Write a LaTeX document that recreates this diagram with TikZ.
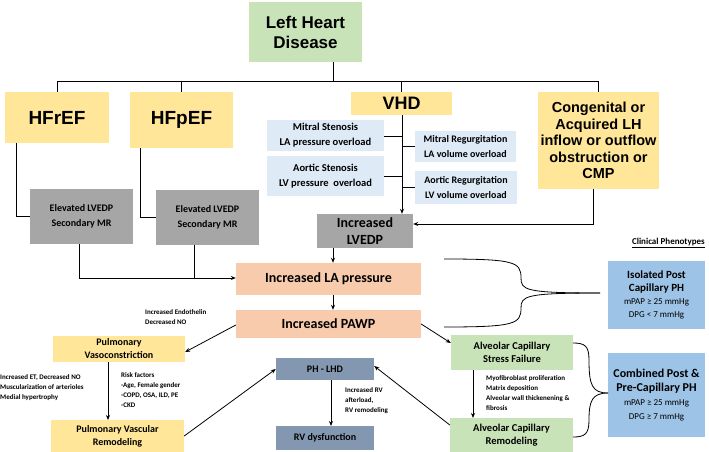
\documentclass[tikz,border=0pt]{standalone}
\usepackage{fontspec}
\setmainfont{Carlito}
\newfontfamily\arialf{Liberation Sans}
\usetikzlibrary{arrows.meta}
\definecolor{cy}{HTML}{FFE699}
\definecolor{cg}{HTML}{C9E3B8}
\definecolor{cp}{HTML}{F8CBAD}
\definecolor{cl}{HTML}{DEEBF7}
\definecolor{cgr}{HTML}{A6A6A6}
\definecolor{cs}{HTML}{8497B0}
\definecolor{cb}{HTML}{9DC3E6}
\begin{document}
\begin{tikzpicture}[x=1pt,y=-1pt,
 box/.style={draw=none,align=center,inner sep=1pt,font=\bfseries},
 ln/.style={draw=black,line width=0.8pt},
 ar/.style={ln,-{Stealth[length=5pt,width=4pt]}},
 sm/.style={align=left,font=\bfseries\fontsize{7}{10}\selectfont,inner sep=0pt,anchor=north west}]
\fill[white] (0,0) rectangle (709,452);
\useasboundingbox (0,0) rectangle (709,452);
\node[box,fill=cg,minimum width=113,minimum height=60,font=\arialf\bfseries\fontsize{17}{20}\selectfont] (lhd) at (305.5,32) {Left Heart\\Disease};
\node[box,fill=cy,minimum width=104,minimum height=51,font=\arialf\bfseries\fontsize{19}{22}\selectfont] (hfr) at (57,117.5) {HFrEF};
\node[box,fill=cy,minimum width=103,minimum height=56,font=\arialf\bfseries\fontsize{19}{22}\selectfont] (hfp) at (181.5,120) {HFpEF};
\node[box,fill=cy,minimum width=101,minimum height=23,font=\arialf\bfseries\fontsize{18}{20}\selectfont] (vhd) at (401.5,103.5) {VHD};
\node[box,fill=cy,minimum width=121,minimum height=97,font=\arialf\bfseries\fontsize{14.5}{16.5}\selectfont] (cong) at (598.5,140.5) {Congenital or\\Acquired LH\\inflow or outflow\\obstruction or\\CMP};
\node[box,fill=cl,minimum width=117,minimum height=31,font=\bfseries\fontsize{10.5}{15}\selectfont] (ms) at (325.5,135.5) {Mitral Stenosis\\LA pressure overload};
\node[box,fill=cl,minimum width=117,minimum height=40,font=\bfseries\fontsize{10.5}{15}\selectfont] (as) at (325.5,176) {Aortic Stenosis\\LV pressure\ \ overload};
\node[box,fill=cl,minimum width=101,minimum height=31,font=\bfseries\fontsize{10}{15}\selectfont] (mr) at (465.5,146.5) {Mitral Regurgitation\\LA volume overload};
\node[box,fill=cl,minimum width=102,minimum height=33,font=\bfseries\fontsize{10}{15}\selectfont] (arg) at (466,187.5) {Aortic Regurgitation\\LV volume overload};
\node[box,fill=cgr,minimum width=96,minimum height=34,font=\bfseries\fontsize{14}{17}\selectfont] (lvedp) at (365,231) {Increased\\LVEDP};
\node[box,fill=cgr,minimum width=103,minimum height=55,font=\bfseries\fontsize{10}{15}\selectfont] (e1) at (81.5,216.5) {Elevated LVEDP\\Secondary MR};
\node[box,fill=cgr,minimum width=103,minimum height=55,font=\bfseries\fontsize{10}{15}\selectfont] (e2) at (207.5,217.5) {Elevated LVEDP\\Secondary MR};
\node[box,fill=cp,minimum width=185,minimum height=32,font=\bfseries\fontsize{14}{17}\selectfont] (la) at (328.5,279) {Increased LA pressure};
\node[box,fill=cp,minimum width=185,minimum height=28,font=\bfseries\fontsize{14}{17}\selectfont] (pawp) at (328.5,324) {Increased PAWP};
\node[box,fill=cb,minimum width=97,minimum height=68,font=\bfseries\fontsize{11}{13}\selectfont] (iso) at (656.5,295) {Isolated Post\\Capillary PH\\{\mdseries\fontsize{9}{12}\selectfont mPAP ≥ 25 mmHg}\\{\mdseries\fontsize{9}{12}\selectfont DPG < 7 mmHg}};
\node[box,fill=cb,minimum width=97,minimum height=84,font=\bfseries\fontsize{12}{14}\selectfont] (comb) at (656.5,395) {Combined Post \&\\Pre-Capillary PH\\{\mdseries\fontsize{9}{12}\selectfont mPAP ≥ 25 mmHg}\\{\mdseries\fontsize{9}{12}\selectfont DPG ≥ 7 mmHg}};
\node[box,fill=cg,minimum width=122,minimum height=35,font=\bfseries\fontsize{10.5}{13}\selectfont] (acsf) at (512,352.5) {Alveolar Capillary\\Stress Failure};
\node[box,fill=cg,minimum width=123,minimum height=34,font=\bfseries\fontsize{10.5}{13}\selectfont] (acr) at (511.5,435) {Alveolar Capillary\\Remodeling};
\node[box,fill=cs,minimum width=98,minimum height=22,font=\bfseries\fontsize{10}{12}\selectfont] (ph) at (325,369) {PH - LHD};
\node[box,fill=cs,minimum width=98,minimum height=24,font=\bfseries\fontsize{10}{12}\selectfont] (rv) at (325,438) {RV dysfunction};
\node[box,fill=cy,minimum width=132,minimum height=26,font=\bfseries\fontsize{10}{13}\selectfont] (pv) at (119,349) {Pulmonary\\Vasoconstriction};
\node[box,fill=cy,minimum width=133,minimum height=32,font=\bfseries\fontsize{10}{13}\selectfont] (pvr) at (117.5,436) {Pulmonary Vascular\\Remodeling};
% texts
\node[inner sep=0pt,anchor=south east,font=\bfseries\fontsize{9}{11}\selectfont] (cp) at (705,248) {\underline{Clinical Phenotypes}};
\node[sm] (t1) at (145,309) {Increased Endothelin\\Decreased NO};
\node[sm] (t2) at (0,374) {Increased ET, Decreased NO\\Muscularization of arterioles\\Medial hypertrophy};
\node[sm] (t3) at (121,372) {Risk factors\\-Age, Female gender\\-COPD, OSA, ILD, PE\\-CKD};
\node[sm] (t4) at (345,387) {Increased RV\\afterload,\\RV remodeling};
\node[sm] (t5) at (486,375) {Myofibroblast proliferation\\Matrix deposition\\Alveolar wall thickenening \&\\fibrosis};
% top bus
\coordinate (bt) at (333,62);
\coordinate (bb) at (333,81);
\draw[ln] (bt) -- (bb);
\draw[ln] (hfr.north) -- (hfr.north |- bb) -- (cong.north |- bb) -- (cong.north);
\draw[ln] (hfp.north) -- (hfp.north |- bb);
\draw[ln] (vhd.north) -- (vhd.north |- bb);
% VHD branches
\coordinate (vx) at (402,115);
\draw[ar] (vx) -- (vx |- lvedp.north);
\draw[ln] (ms.east |- 0,136) -- (402,136);
\draw[ln] (as.east |- 0,176) -- (402,176);
\draw[ln] (402,146) -- (mr.west |- 0,146);
\draw[ln] (402,187) -- (arg.west |- 0,187);
\draw[ar] (593,189) -- (593,224) -- (lvedp.east |- 0,224);
% HF lines
\draw[ln] (16,143) -- (16,216) -- (e1.west |- 0,216);
\draw[ln] (140,148) -- (140,217) -- (e2.west |- 0,217);
\coordinate (hm) at (79,278);
\draw[ln] (e1.south -| hm) -- (hm);
\draw[ln] (194,244.5) -- (194,278);
\draw[ar] (hm) -- (la.west |- hm);
\draw[ar] (lvedp.south -| 333,0) -- (la.north -| 333,0);
\draw[ar] (la.south -| 333,0) -- (pawp.north -| 333,0);
% bracket 1
\coordinate (k1) at (444,259);
\coordinate (k2) at (444,327);
\coordinate (kp) at (600,293);
\draw[ln] (k1) .. controls (515,259) and (521,262) .. (521,278) .. controls (521,290) and (525,293) .. (kp);
\draw[ln] (k2) .. controls (515,327) and (521,324) .. (521,308) .. controls (521,296) and (525,293) .. (kp);
% bracket 2
\coordinate (q1) at (573,343);
\coordinate (q2) at (573,437);
\coordinate (qp) at (608,393);
\draw[ln] (q1) .. controls (585,343) and (589,346) .. (589,360) .. controls (589,385) and (592,393) .. (qp);
\draw[ln] (q2) .. controls (585,437) and (589,434) .. (589,420) .. controls (589,401) and (592,393) .. (qp);
% lower flows
\draw[ar] (pawp.east |- 0,324) -- (acsf.west |- 0,343);
\draw[ar] (pawp.west |- 0,325) -- (pv.east |- 0,352);
\draw[ar] (473,370) -- (473,418);
\draw[ar] (108,362) -- (108,420);
\draw[ar] (acr.west |- 0,425) -- (ph.east |- 0,366);
\draw[ar] (pvr.east |- 0,436) -- (ph.west |- 0,369);
\draw[ar] (331,380) -- (331,426);
\end{tikzpicture}
\end{document}
